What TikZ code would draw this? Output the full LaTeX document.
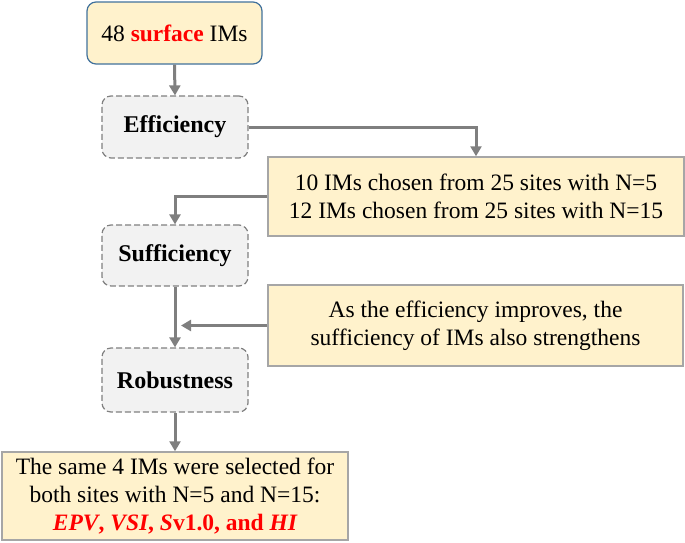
\documentclass[tikz,border=0pt]{standalone}
\usepackage{fontspec}
\setmainfont{Liberation Serif}
\usetikzlibrary{arrows.meta}
\definecolor{boxyellow}{HTML}{FFF2CC}
\definecolor{boxblue}{HTML}{41719C}
\definecolor{boxgray}{HTML}{A6A6A6}
\definecolor{dashgray}{HTML}{808080}
\definecolor{dashfill}{HTML}{F2F2F2}
\definecolor{arrowgray}{HTML}{7F7F7F}
\definecolor{myred}{HTML}{FF0000}
\begin{document}
\begin{tikzpicture}[x=1pt,y=-1pt,
  every node/.style={font=\fontsize{23.5}{28}\selectfont, align=center, inner sep=0pt},
  topbox/.style={draw=boxblue, line width=1.2pt, fill=boxyellow, rounded corners=9pt},
  stagebox/.style={draw=dashgray, dash pattern=on 6pt off 3pt, line width=1.2pt, fill=dashfill, rounded corners=9pt, font=\fontsize{24}{28}\selectfont\bfseries, minimum width=146pt},
  notebox/.style={draw=boxgray, line width=1.5pt, fill=boxyellow},
  conn/.style={draw=arrowgray, line width=3pt, -{Triangle[width=11pt,length=10pt]}}
]
\useasboundingbox (0,0) rectangle (685,542);
\node[topbox, minimum width=175pt, minimum height=62pt] (top) at (174.5,33) {48 {\bfseries\color{myred}surface} IMs};
\node[stagebox, minimum height=62pt] (eff) at (175,127) {Efficiency};
\node[notebox, minimum width=416pt, minimum height=79pt] (chosen) at (476,196.5) {10 IMs chosen from 25 sites with N=5\\12 IMs chosen from 25 sites with N=15};
\node[stagebox, minimum height=61pt] (suf) at (175,255.5) {Sufficiency};
\node[notebox, minimum width=415pt, minimum height=81pt] (improve) at (475.5,325.5) {As the efficiency improves, the\\sufficiency of IMs also strengthens};
\node[stagebox, minimum height=64pt] (rob) at (175,380) {Robustness};
\node[notebox, minimum width=346pt, minimum height=88pt] (result) at (175,496) {The same 4 IMs were selected for\\both sites with N=5 and N=15:\\{\bfseries\color{myred}\itshape EPV\upshape, \itshape VSI\upshape, \itshape S\upshape v1.0, and \itshape HI}};
\coordinate (join) at (181,325.5);
\draw[conn] (top.south) -- (eff.north);
\draw[conn] (eff.east) -| (chosen.north);
\draw[conn] (chosen.west) -| (suf.north);
\draw[conn] (suf.south) -- (rob.north);
\draw[conn] (improve.west) -- (join);
\draw[conn] (rob.south) -- (result.north);
\end{tikzpicture}
\end{document}
